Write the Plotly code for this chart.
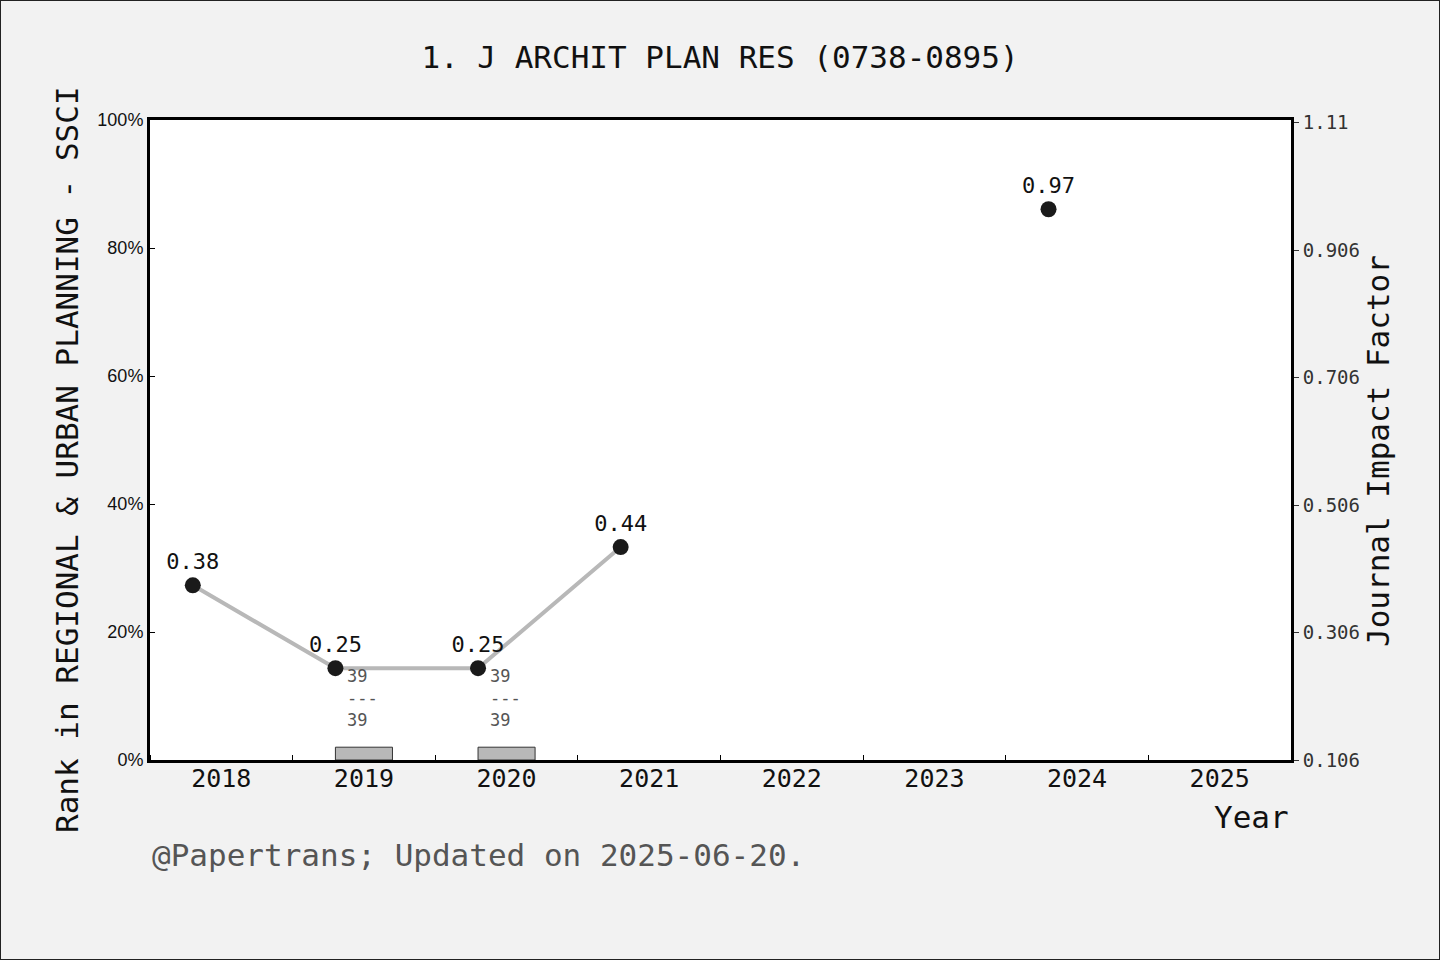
import plotly.graph_objects as go

# ---------------- data ----------------
years = ["2018", "2019", "2020", "2021", "2022", "2023", "2024", "2025"]
impact_factor = [0.38, 0.25, 0.25, 0.44, None, None, 0.97, None]
if_labels = ["0.38", "0.25", "0.25", "0.44", "", "", "0.97", ""]
rank_bar_pct = [None, 2, 2, None, None, None, None, None]
rank_num = [None, 39, 39, None, None, None, None, None]
rank_total = [None, 39, 39, None, None, None, None, None]
left_tickvals = [0, 20, 40, 60, 80, 100]
left_ticktext = ["0%", "20%", "40%", "60%", "80%", "100%"]
right_tickvals = [0.106, 0.306, 0.506, 0.706, 0.906, 1.106]
right_ticktext = ["0.106", "0.306", "0.506", "0.706", "0.906", "1.11"]

title_text = "1. J ARCHIT PLAN RES (0738-0895)"
left_title = "Rank in REGIONAL & URBAN PLANNING - SSCI"
right_title = "Journal Impact Factor"
footer = "@Papertrans; Updated on 2025-06-20."

# ---------------- layout constants ----------------
W, H = 1440, 960
ML, MR, MT, MB = 150, 149, 120, 200
PW, PH = W - ML - MR, H - MT - MB
MONO = "DejaVu Sans Mono"
POINT_OFFSET = -0.2

idx = list(range(len(years)))
pt_x = [i + POINT_OFFSET for i in idx]

fig = go.Figure()

fig.add_trace(go.Bar(
    x=idx, y=rank_bar_pct, width=0.4,
    marker=dict(color="#b8b8b8", line=dict(color="#333333", width=1)),
    yaxis="y", showlegend=False, hoverinfo="skip",
))

fig.add_trace(go.Scatter(
    x=pt_x, y=impact_factor, yaxis="y2",
    mode="lines+markers+text",
    line=dict(color="#b8b8b8", width=4),
    marker=dict(color="#1a1a1a", size=16),
    text=if_labels, textposition="top center",
    textfont=dict(family=MONO, size=22, color="#111111"),
    connectgaps=False, showlegend=False,
))

annotations = []
for i, (n, t, v) in enumerate(zip(rank_num, rank_total, impact_factor)):
    if n is None:
        continue
    annotations.append(dict(
        x=pt_x[i], y=v, xref="x", yref="y2",
        text=f"{n}<br>---<br>{t}", showarrow=False,
        xanchor="left", yanchor="top", align="left",
        xshift=10, yshift=4,
        font=dict(family=MONO, size=17, color="#555555"),
    ))

annotations += [
    dict(x=-83 / PW, y=0.5 - 20 / PH, xref="paper", yref="paper", text=left_title,
         textangle=-90, showarrow=False, xanchor="center", yanchor="middle",
         font=dict(family=MONO, size=31, color="#111111")),
    dict(x=1 + 87 / PW, y=0.5 - 11 / PH, xref="paper", yref="paper", text=right_title,
         textangle=-90, showarrow=False, xanchor="center", yanchor="middle",
         font=dict(family=MONO, size=31, color="#111111")),
    dict(x=1, y=-57 / PH, xref="paper", yref="paper", text="Year",
         showarrow=False, xanchor="right", yanchor="middle",
         font=dict(family=MONO, size=31, color="#111111")),
    dict(x=0, y=-95 / PH, xref="paper", yref="paper", text=footer,
         showarrow=False, xanchor="left", yanchor="middle",
         font=dict(family=MONO, size=31, color="#555555")),
]

shapes = [dict(
    type="rect", xref="paper", yref="paper",
    x0=-ML / PW, x1=1 + MR / PW, y0=-MB / PH, y1=1 + MT / PH,
    line=dict(color="#222222", width=2), fillcolor="rgba(0,0,0,0)", layer="below",
)]

fig.update_layout(
    width=W, height=H,
    margin=dict(l=ML, r=MR, t=MT, b=MB, pad=0),
    paper_bgcolor="#f2f2f2", plot_bgcolor="#ffffff",
    title=dict(text=title_text, x=0.5, xanchor="center", y=1 - 57 / H,
               yanchor="middle", yref="container",
               font=dict(family=MONO, size=31, color="#111111")),
    xaxis=dict(
        range=[-0.5, len(years) - 0.5], tickvals=idx, ticktext=years,
        ticks="", showgrid=False, zeroline=False, ticklabelstandoff=-6,
        showline=True, linecolor="#000000", linewidth=3, mirror=True,
        tickfont=dict(family=MONO, size=25, color="#111111"),
        minor=dict(ticks="inside", tick0=0.5, dtick=1, ticklen=5, tickwidth=1,
                   tickcolor="#000000", showgrid=False),
    ),
    yaxis=dict(
        range=[0, 100], tickvals=left_tickvals, ticktext=left_ticktext,
        ticks="inside", ticklen=5, tickwidth=1, tickcolor="#000000",
        showgrid=False, zeroline=False,
        showline=True, linecolor="#000000", linewidth=3,
        tickfont=dict(family="Liberation Sans", size=18, color="#111111"),
    ),
    yaxis2=dict(
        overlaying="y", side="right",
        range=[0.106, 1.11], tickvals=right_tickvals, ticktext=right_ticktext,
        ticks="outside", ticklen=5, tickwidth=1, tickcolor="#333333",
        showgrid=False, zeroline=False,
        showline=True, linecolor="#000000", linewidth=3,
        tickfont=dict(family=MONO, size=19, color="#333333"),
    ),
    annotations=annotations,
    shapes=shapes,
    bargap=0.6,
)

fig.write_html("out.html")
